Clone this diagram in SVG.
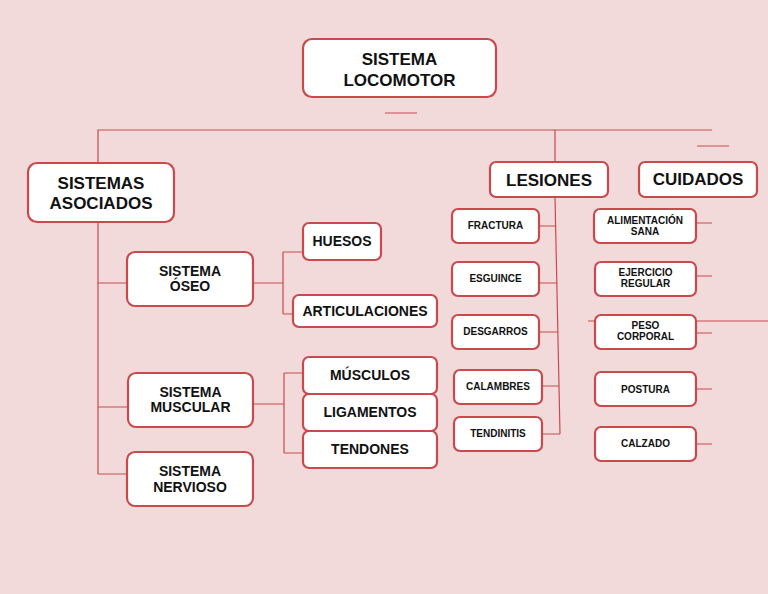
<svg xmlns="http://www.w3.org/2000/svg" width="768" height="594" viewBox="0 0 768 594">
<style>
.n rect{fill:#fff;stroke:#c94a4c;stroke-width:2.2}
text{font-family:"Liberation Sans",Arial,sans-serif;font-weight:bold;fill:#111;text-anchor:middle}
.b{font-size:17px}.m{font-size:14px}.s{font-size:10px}
#c path{fill:none;stroke:#c94a4c;stroke-width:1.2}
</style>
<rect width="768" height="594" fill="#f2dadb"/>
<g id="c">
<path d="M385 113H417M697 146H729M98 163V130H712M555 130V162"/>
<path d="M98 222V474M98 283H127M98 407H128M98 474H127"/>
<path d="M253 283H283M283 252V314M283 252H303M283 314H293"/>
<path d="M253 404H284M284 373V453M284 373H303M284 453H303"/>
<path d="M555 197L560 434M539 226H556M539 283H557M539 332H558M542 386H559M542 434H560"/>
<path d="M696 223H712M696 276H712M696 333H712M696 389H712M696 444H712M696 321H768M588 321H595"/>
</g>
<g id="locomotor" class="n"><rect x="303" y="39" width="193" height="58" rx="9"/><text class="b" x="399.5" y="65">SISTEMA</text><text class="b" x="399.5" y="86">LOCOMOTOR</text></g>
<g id="asociados" class="n"><rect x="28" y="163" width="146" height="59" rx="9"/><text class="b" x="101" y="189">SISTEMAS</text><text class="b" x="101" y="209">ASOCIADOS</text></g>
<g id="lesiones" class="n"><rect x="490" y="162" width="118" height="35" rx="6"/><text class="b" x="549" y="186">LESIONES</text></g>
<g id="cuidados" class="n"><rect x="639" y="162" width="118" height="35" rx="6"/><text class="b" x="698" y="185">CUIDADOS</text></g>
<g id="oseo" class="n"><rect x="127" y="252" width="126" height="54" rx="8"/><text class="m" x="190" y="276">SISTEMA</text><text class="m" x="190" y="291">ÓSEO</text></g>
<g id="muscular" class="n"><rect x="128" y="373" width="125" height="54" rx="8"/><text class="m" x="190.5" y="397">SISTEMA</text><text class="m" x="190.5" y="412">MUSCULAR</text></g>
<g id="nervioso" class="n"><rect x="127" y="452" width="126" height="54" rx="8"/><text class="m" x="190" y="476">SISTEMA</text><text class="m" x="190" y="492">NERVIOSO</text></g>
<g id="huesos" class="n"><rect x="303" y="223" width="78" height="37" rx="6"/><text class="m" x="342" y="246">HUESOS</text></g>
<g id="articulaciones" class="n"><rect x="293" y="295" width="144" height="32" rx="6"/><text class="m" x="365" y="316">ARTICULACIONES</text></g>
<g id="musculos" class="n"><rect x="303" y="357" width="134" height="37" rx="6"/><text class="m" x="370" y="380">MÚSCULOS</text></g>
<g id="ligamentos" class="n"><rect x="303" y="394" width="134" height="37" rx="6"/><text class="m" x="370" y="417">LIGAMENTOS</text></g>
<g id="tendones" class="n"><rect x="303" y="431" width="134" height="37" rx="6"/><text class="m" x="370" y="454">TENDONES</text></g>
<g id="fractura" class="n"><rect x="452" y="209" width="87" height="34" rx="6"/><text class="s" x="495.5" y="229">FRACTURA</text></g>
<g id="esguince" class="n"><rect x="452" y="262" width="87" height="34" rx="6"/><text class="s" x="495.5" y="282">ESGUINCE</text></g>
<g id="desgarros" class="n"><rect x="452" y="315" width="87" height="34" rx="6"/><text class="s" x="495.5" y="335">DESGARROS</text></g>
<g id="calambres" class="n"><rect x="454" y="370" width="88" height="34" rx="6"/><text class="s" x="498" y="390">CALAMBRES</text></g>
<g id="tendinitis" class="n"><rect x="454" y="417" width="88" height="34" rx="6"/><text class="s" x="498" y="437">TENDINITIS</text></g>
<g id="alimentacion" class="n"><rect x="594" y="209" width="102" height="34" rx="6"/><text class="s" x="645" y="224">ALIMENTACIÓN</text><text class="s" x="645" y="235">SANA</text></g>
<g id="ejercicio" class="n"><rect x="595" y="262" width="101" height="34" rx="6"/><text class="s" x="645.5" y="276">EJERCICIO</text><text class="s" x="645.5" y="287">REGULAR</text></g>
<g id="peso" class="n"><rect x="595" y="315" width="101" height="34" rx="6"/><text class="s" x="645.5" y="329">PESO</text><text class="s" x="645.5" y="340">CORPORAL</text></g>
<g id="postura" class="n"><rect x="595" y="372" width="101" height="34" rx="6"/><text class="s" x="645.5" y="393">POSTURA</text></g>
<g id="calzado" class="n"><rect x="595" y="427" width="101" height="34" rx="6"/><text class="s" x="645.5" y="447">CALZADO</text></g>
</svg>
